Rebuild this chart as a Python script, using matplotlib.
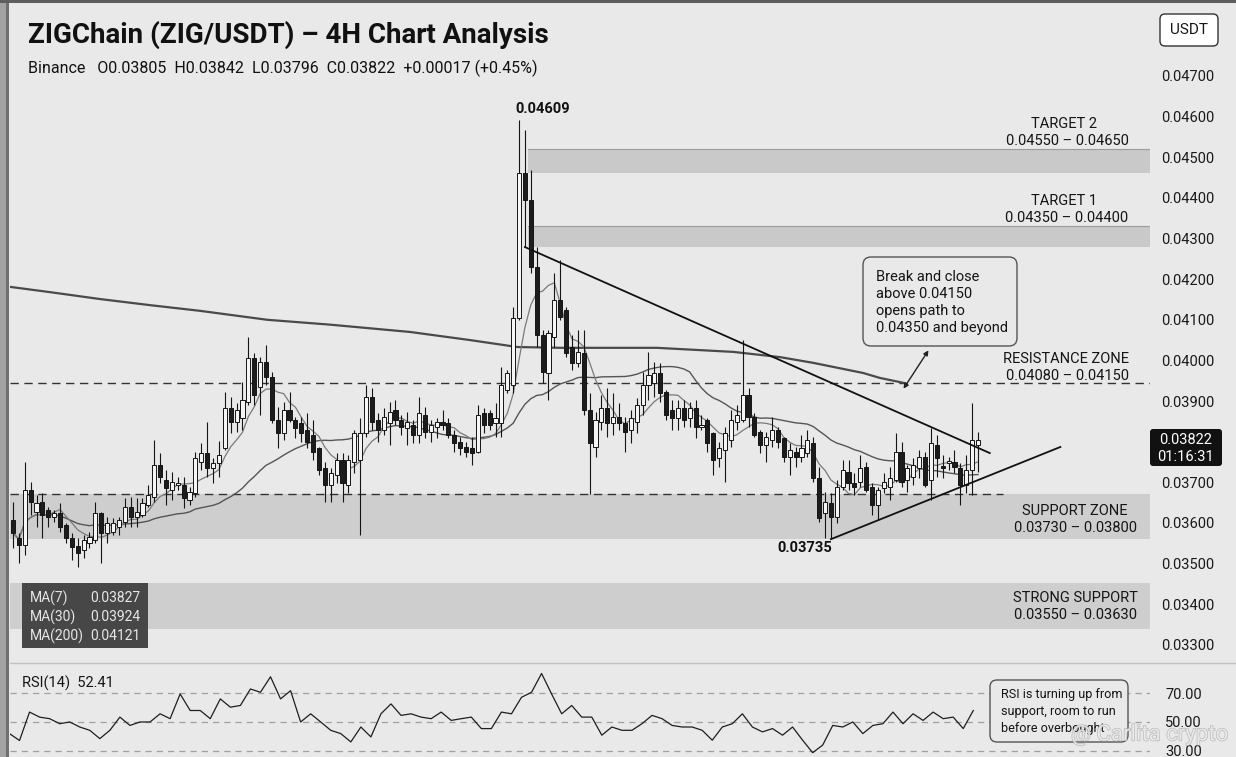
import numpy as np
import pandas as pd
import matplotlib
matplotlib.use("Agg")
import matplotlib.pyplot as plt
from matplotlib.patches import Rectangle, FancyBboxPatch, FancyArrowPatch
from matplotlib.lines import Line2D
from matplotlib.transforms import IdentityTransform
import matplotlib.patheffects as pe

plt.rcParams['font.family'] = ['Roboto', 'DejaVu Sans']

# ---- 4H candles ----
opens = [
    .03607, .03563, .03546, .03681, .03627, .03652, .03632, .03615, .03625, .03595,
    .03563, .03543, .03533, .03551, .03558, .03625, .03575, .03578, .03590, .03602,
    .03639, .03615, .03620, .03644, .03664, .03743, .03706, .03681, .03693, .03693,
    .03657, .03674, .03750, .03772, .03735, .03748, .03785, .03883, .03848, .03858,
    .03898, .04006, .03935, .03996, .03959, .03853, .03821, .03878, .03853, .03846,
    .03829, .03817, .03785, .03735, .03693, .03718, .03755, .03693, .03750, .03755,
    .03821, .03910, .03853, .03829, .03846, .03878, .03853, .03834, .03841, .03817,
    .03866, .03824, .03836, .03848, .03846, .03817, .03799, .03787, .03785, .03775,
    .03871, .03871, .03846, .03846, .03927, .03940, .04104, .04461, .04395, .04230,
    .04063, .03969, .04058, .04149, .04124, .04033, .03994, .04018, .03878, .03787,
    .03848, .03883, .03846, .03861, .03846, .03829, .03848, .03890, .03940, .03945,
    .03969, .03922, .03878, .03858, .03883, .03858, .03883, .03836, .03853, .03821,
    .03760, .03780, .03804, .03848, .03853, .03915, .03861, .03824, .03792, .03804,
    .03829, .03809, .03762, .03775, .03762, .03772, .03797, .03711, .03625, .03649,
    .03615, .03689, .03725, .03698, .03701, .03738, .03689, .03644, .03686, .03689,
    .03706, .03775, .03706, .03713, .03735, .03762, .03706, .03792, .03738, .03748,
    .03750, .03735, .03693, .03730, .03792,
]
highs = [
    .03652, .03575, .03750, .03701, .03669, .03674, .03639, .03632, .03649, .03600,
    .03575, .03563, .03570, .03578, .03652, .03627, .03615, .03612, .03615, .03661,
    .03664, .03661, .03661, .03693, .03804, .03772, .03730, .03725, .03713, .03713,
    .03689, .03775, .03797, .03848, .03760, .03802, .03922, .03910, .03895, .03947,
    .04058, .04018, .04008, .04038, .03972, .03885, .03898, .03922, .03861, .03861,
    .03871, .03853, .03787, .03750, .03735, .03772, .03772, .03767, .03829, .03858,
    .03940, .03932, .03871, .03883, .03898, .03903, .03866, .03873, .03853, .03910,
    .03885, .03853, .03858, .03878, .03858, .03829, .03812, .03799, .03812, .03890,
    .03883, .03878, .03895, .03984, .03976, .04131, .04592, .04567, .04469, .04279,
    .04075, .04075, .04215, .04247, .04131, .04063, .04075, .04075, .03920, .03873,
    .03915, .03932, .03920, .03895, .03861, .03878, .03908, .03972, .04021, .03996,
    .03994, .03927, .03903, .03903, .03903, .03898, .03903, .03866, .03858, .03824,
    .03799, .03836, .03878, .03890, .04050, .03932, .03871, .03829, .03824, .03861,
    .03836, .03812, .03797, .03787, .03817, .03829, .03812, .03738, .03676, .03674,
    .03706, .03755, .03755, .03723, .03767, .03750, .03698, .03689, .03723, .03738,
    .03821, .03799, .03743, .03760, .03780, .03775, .03834, .03817, .03767, .03762,
    .03780, .03748, .03767, .03895, .03824,
]
lows = [
    .03538, .03502, .03521, .03620, .03590, .03563, .03590, .03602, .03578, .03551,
    .03509, .03492, .03514, .03538, .03551, .03502, .03551, .03570, .03570, .03590,
    .03590, .03590, .03615, .03639, .03652, .03698, .03644, .03657, .03681, .03637,
    .03644, .03664, .03730, .03713, .03698, .03713, .03780, .03821, .03824, .03829,
    .03890, .03890, .03866, .03940, .03846, .03785, .03804, .03848, .03809, .03799,
    .03785, .03755, .03718, .03652, .03652, .03698, .03652, .03674, .03723, .03570,
    .03812, .03829, .03799, .03817, .03792, .03841, .03817, .03792, .03797, .03797,
    .03809, .03799, .03809, .03829, .03809, .03775, .03767, .03762, .03743, .03772,
    .03821, .03829, .03812, .03812, .03920, .03920, .04100, .04279, .04215, .04033,
    .03944, .03903, .04033, .04100, .04008, .03976, .03984, .03866, .03671, .03762,
    .03829, .03812, .03817, .03829, .03775, .03797, .03821, .03866, .03903, .03910,
    .03898, .03853, .03829, .03829, .03836, .03836, .03809, .03829, .03775, .03718,
    .03738, .03701, .03787, .03829, .03848, .03836, .03812, .03772, .03750, .03787,
    .03785, .03750, .03718, .03738, .03750, .03762, .03701, .03602, .03563, .03563,
    .03600, .03681, .03681, .03669, .03689, .03676, .03620, .03607, .03674, .03657,
    .03701, .03689, .03676, .03693, .03711, .03689, .03657, .03713, .03711, .03730,
    .03723, .03644, .03674, .03669, .03725,
]
closes = [
    .03575, .03546, .03681, .03652, .03649, .03620, .03615, .03625, .03590, .03563,
    .03541, .03526, .03558, .03565, .03625, .03575, .03600, .03600, .03607, .03639,
    .03615, .03627, .03649, .03669, .03743, .03713, .03686, .03701, .03698, .03661,
    .03676, .03760, .03772, .03735, .03748, .03767, .03883, .03848, .03878, .03903,
    .04006, .03915, .03996, .03959, .03853, .03821, .03878, .03853, .03834, .03821,
    .03799, .03775, .03730, .03693, .03723, .03755, .03698, .03755, .03821, .03821,
    .03910, .03848, .03829, .03861, .03873, .03853, .03836, .03848, .03817, .03871,
    .03824, .03841, .03848, .03841, .03817, .03797, .03785, .03775, .03772, .03866,
    .03841, .03841, .03858, .03940, .03969, .04104, .04461, .04395, .04230, .04063,
    .03972, .04068, .04149, .04107, .04018, .03994, .04021, .03878, .03797, .03853,
    .03883, .03846, .03861, .03846, .03824, .03858, .03890, .03940, .03964, .03969,
    .03920, .03866, .03858, .03883, .03853, .03883, .03836, .03841, .03797, .03755,
    .03785, .03821, .03853, .03866, .03915, .03861, .03817, .03792, .03812, .03829,
    .03799, .03762, .03780, .03762, .03785, .03804, .03711, .03612, .03652, .03615,
    .03689, .03730, .03698, .03689, .03735, .03681, .03644, .03681, .03701, .03711,
    .03775, .03701, .03735, .03743, .03762, .03693, .03797, .03760, .03735, .03750,
    .03738, .03693, .03730, .03804, .03804,
]

# MA(200) (candle index, price)
ma200_idx = [-0.5, 6.3, 14.8, 23.3, 31.8, 43.2, 53.9, 67.5, 77.7, 85.7,
             93.0, 109.4, 122.4, 130.4, 136.0, 144.5, 147.3, 151.6]
ma200_val = [0.04181, 0.04168, 0.04151, 0.04136, 0.04122, 0.04100, 0.04088, 0.04070, 0.04050, 0.04033,
             0.04031, 0.04031, 0.04021, 0.04008, 0.03994, 0.03969, 0.03957, 0.03944]

# RSI(14) line
rsi_values = [41.8, 37.0, 56.8, 53.3, 52.2, 48.7, 49.9, 46.4, 44.1, 38.3,
              44.1, 53.3, 47.5, 49.9, 49.9, 55.6, 52.2, 69.4, 57.9, 57.9,
              52.2, 66.0, 60.2, 61.4, 72.9, 70.6, 81.4, 66.0, 71.7, 49.9,
              55.6, 49.9, 44.1, 41.8, 36.0, 46.4, 39.5, 55.6, 62.5, 54.5,
              55.6, 53.3, 52.2, 56.8, 51.0, 52.2, 53.3, 45.3, 45.3, 56.8,
              55.6, 67.1, 70.6, 83.7, 69.4, 55.6, 61.4, 53.3, 53.3, 40.7,
              46.4, 44.1, 44.1, 48.7, 54.5, 52.2, 47.5, 46.4, 46.4, 44.1,
              37.2, 46.4, 48.7, 55.6, 46.4, 43.0, 45.3, 40.7, 46.4, 37.2,
              28.5, 33.8, 47.5, 46.4, 49.9, 41.8, 47.5, 48.7, 56.8, 48.7,
              55.6, 51.0, 56.8, 52.2, 53.3, 45.3, 57.9]

# levels and zones as drawn
target2 = (0.04461, 0.04520)
target1 = (0.04279, 0.04331)
resistance_line = 0.03945
support_zone = (0.03560, 0.03671)
strong_support = (0.03339, 0.03452)
desc_line_x = [87, 166]
desc_line_y = [0.04279, 0.03772]
asc_line_x = [139, 178]
asc_line_y = [0.03560, 0.03787]
price_ticks = [0.047, 0.046, 0.045, 0.044, 0.043, 0.042, 0.041, 0.040, 0.039, 0.037, 0.036, 0.035, 0.034, 0.033]
rsi_ticks = [70, 50, 30]

W, H = 1236, 757
BG = '#e9e9e9'


def fx(px):
    return px / W


def fy(py):
    return 1 - py / H


def px_box(x0, y0, x1, y1, r, **kw):
    # box in output pixels (y measured from the top)
    return FancyBboxPatch((x0, H - y1), x1 - x0, y1 - y0,
                          boxstyle=f"round,pad=0,rounding_size={r}",
                          transform=IdentityTransform(), **kw)


fig = plt.figure(figsize=(W / 100, H / 100), dpi=100, facecolor=BG)

# ---------------- price pane ----------------
ax = fig.add_axes([fx(10), fy(662), fx(1150) - fx(10), fy(8) - fy(662)])
ax.set_facecolor(BG)
for s in ax.spines.values():
    s.set_visible(False)

n = len(closes)
x = np.arange(n)
step = 965 / (n - 1)
x_left, x_right = -3 / step, (n - 1) + 172 / step
ax.set_xlim(x_left, x_right)
ax.set_ylim(0.032578, 0.048673)
ax.set_xticks([])
ax.yaxis.tick_right()
ax.set_yticks(price_ticks)
ax.set_yticklabels([f"{v:.5f}" for v in price_ticks])
ax.tick_params(axis='y', length=0, pad=8, labelsize=10.5, labelcolor='#1a1a1a')

peak = int(np.argmax(highs))
band_x0 = peak + 1.5
for lo, hi in (target2, target1):
    ax.add_patch(Rectangle((band_x0, lo), x_right - band_x0, hi - lo, fc='#c9c9c9', ec='none', zorder=0))
    ax.plot([band_x0, x_right], [hi, hi], color='#9c9c9c', lw=0.8, zorder=0)
for lo, hi in (support_zone, strong_support):
    ax.add_patch(Rectangle((x_left, lo), x_right - x_left, hi - lo, fc='#cecece', ec='none', zorder=0))

ax.axhline(resistance_line, color='#333333', lw=1, ls=(0, (6, 4)), zorder=1)
ax.axhline(support_zone[1], xmax=0.871, color='#333333', lw=1, ls=(0, (6, 4)), zorder=1)

# moving averages
close_s = pd.Series(closes)
ma7 = close_s.rolling(7, min_periods=1).mean()
ma30 = close_s.rolling(30, min_periods=1).mean()
ax.plot(ma200_idx, ma200_val, color='#4a4a4a', lw=1.6, zorder=2)
ax.plot(x, ma30, color='#555555', lw=1.0, zorder=2)
ax.plot(x, ma7, color='#7a7a7a', lw=0.9, zorder=2)

# trend lines
ax.plot(desc_line_x, desc_line_y, color='#111111', lw=1.3, zorder=4)
ax.plot(asc_line_x, asc_line_y, color='#111111', lw=1.3, zorder=4)

# candles
o = np.array(opens)
c = np.array(closes)
up = c >= o
ax.vlines(x, lows, highs, color='#151515', lw=0.8, zorder=3)
body_h = np.maximum(np.abs(c - o), 0.00004)
ax.bar(x, body_h, bottom=np.minimum(o, c), width=0.7,
       color=np.where(up, '#f5f5f5', '#1c1c1c'), edgecolor='#151515', linewidth=0.7, zorder=3)

# ---------------- RSI pane ----------------
rax = fig.add_axes([fx(10), 0, fx(1150) - fx(10), fy(663)])
rax.set_facecolor(BG)
for s in rax.spines.values():
    s.set_visible(False)
rax.set_xlim(x_left, x_right)
rax.set_ylim(25.5, 91)
rax.set_xticks([])
rax.yaxis.tick_right()
rax.set_yticks(rsi_ticks)
rax.set_yticklabels([f"{v:.2f}" for v in rsi_ticks])
rax.tick_params(axis='y', length=0, pad=11, labelsize=10.5, labelcolor='#1a1a1a')
for lvl in rsi_ticks:
    rax.axhline(lvl, color='#a0a0a0', lw=0.9, ls=(0, (5, 4)))
rsi_x = np.linspace(-0.6, n - 1.8, len(rsi_values))
rax.plot(rsi_x, rsi_values, color='#1e1e1e', lw=0.9)

fig.add_artist(Line2D([fx(10), 1], [fy(663), fy(663)], color='#c2c2c2', lw=1))

# ---------------- frame ----------------
fig.add_artist(Rectangle((0, 0), fx(6), 1, transform=fig.transFigure, fc='#a2a2a2', ec='none'))
fig.add_artist(Rectangle((fx(6), 0), fx(2.5), 1, transform=fig.transFigure, fc='#707070', ec='none'))
fig.add_artist(Rectangle((0, fy(3)), 1, 3 / H, transform=fig.transFigure, fc='#5e5e5e', ec='none'))

# ---------------- texts ----------------
fig.text(fx(28), fy(35), "ZIGChain (ZIG/USDT) – 4H Chart Analysis", fontsize=20,
         weight='bold', va='center', color='#111111')
fig.text(fx(28), fy(68), "Binance   O0.03805  H0.03842  L0.03796  C0.03822  +0.00017 (+0.45%)",
         fontsize=11.5, va='center', color='#111111')

zone_labels = [
    (1064, 124, "TARGET 2"), (1067, 141, "0.04550 – 0.04650"),
    (1064, 201, "TARGET 1"), (1067, 218, "0.04350 – 0.04400"),
    (1066, 359, "RESISTANCE ZONE"), (1067, 376, "0.04080 – 0.04150"),
    (1075, 511, "SUPPORT ZONE"), (1075, 528, "0.03730 – 0.03800"),
    (1075, 598, "STRONG SUPPORT"), (1075, 615, "0.03550 – 0.03630"),
]
for px, py, t in zone_labels:
    fig.text(fx(px), fy(py), t, fontsize=10.5, ha='center', va='center', color='#151515')

fig.text(fx(543), fy(109), f"{max(highs) + 0.00017:.5f}", fontsize=10.5, weight='bold',
         ha='center', va='center', color='#111111')
fig.text(fx(805), fy(548), "0.03735", fontsize=10.5, weight='bold',
         ha='center', va='center', color='#111111')

# callout box for breakout
fig.add_artist(px_box(863, 257, 1017, 346, 8, fc=BG, ec='#555555', lw=1))
fig.text(fx(876), fy(302.5), "Break and close\nabove 0.04150\nopens path to\n0.04350 and beyond",
         fontsize=10.5, va='center', ha='left', linespacing=1.3, color='#151515')
fig.add_artist(FancyArrowPatch((930, H - 348), (902, H - 391),
                               transform=IdentityTransform(), arrowstyle='<|-|>',
                               mutation_scale=7, color='#222222', lw=1))

# RSI callout
fig.add_artist(px_box(990, 680, 1128, 742, 7, fc=BG, ec='#555555', lw=1))
fig.text(fx(1001), fy(711.5), "RSI is turning up from\nsupport, room to run\nbefore overbought",
         fontsize=9.1, va='center', ha='left', linespacing=1.4, color='#151515')

# MA legend box
fig.add_artist(Rectangle((fx(22), fy(648)), fx(148) - fx(22), fy(583) - fy(648),
                         transform=fig.transFigure, fc='#474747', ec='none'))
ma_rows = [("MA(7)", "0.03827"), ("MA(30)", "0.03924"), ("MA(200)", "0.04121")]
for k, (name, val) in enumerate(ma_rows):
    yy = 598 + 19 * k
    fig.text(fx(30), fy(yy), name, fontsize=10, va='center', color='#e6e6e6')
    fig.text(fx(90), fy(yy), val, fontsize=10, va='center', color='#e6e6e6')

fig.text(fx(22), fy(683), "RSI(14)  52.41", fontsize=10.5, va='center', color='#151515')

# current price tag
fig.add_artist(px_box(1150, 429, 1222, 466, 3, fc='#111111', ec='none'))
fig.text(fx(1186), fy(440), "0.03822", fontsize=10.5, ha='center', va='center', color='white')
fig.text(fx(1186), fy(457), "01:16:31", fontsize=10.5, ha='center', va='center', color='white')

# currency button
fig.add_artist(px_box(1160, 14, 1218, 46, 5, fc='white', ec='#333333', lw=1))
fig.text(fx(1189), fy(30), "USDT", fontsize=11, ha='center', va='center', color='#151515')

# watermark
fig.text(fx(1228), fy(735), "@ Carlita crypto", fontsize=16, ha='right', va='center',
         color='#f4f4f4', alpha=0.7,
         path_effects=[pe.withStroke(linewidth=1.0, foreground='#a8a8a8')])

fig.savefig("out.png", dpi=100, facecolor=BG)
